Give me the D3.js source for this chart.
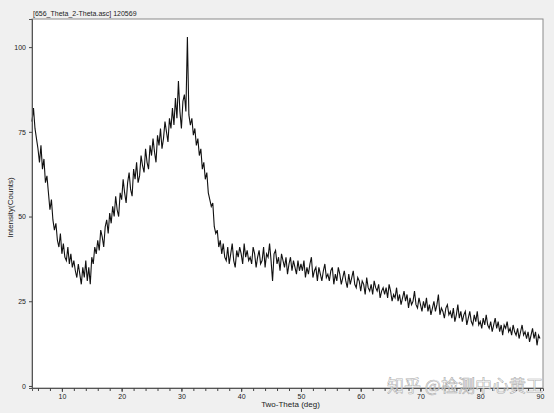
<!DOCTYPE html>
<html>
<head>
<meta charset="utf-8">
<script src="https://cdn.jsdelivr.net/npm/d3@7"></script>
<style>
html,body{margin:0;padding:0;background:#f0f0f0;}
svg{display:block;}
</style>
</head>
<body>
<script>
// ---- data ----
const chartTitle = "[656_Theta_2-Theta.asc] 120569";
const xAxisTitle = "Two-Theta (deg)";
const yAxisTitle = "Intensity(Counts)";
const watermark = "知乎 @检测中心黄工";
const startAngle = 5;
const stepAngle = 0.25;
const xTickValues = [10, 20, 30, 40, 50, 60, 70, 80, 90];
const yTickValues = [0, 25, 50, 75, 100];
const intensity = [
78,82,76,73, 70,66,71,64, 67,60,62,57, 52,55,49,46, 48,43,41,45,
39,42,38,37, 41,36,39,35, 37,34,32,36, 33,30,35,32, 37,31,35,30,
38,36,41,39, 43,40,46,44, 41,47,49,45, 51,48,53,50, 56,52,50,57,
55,61,57,54, 60,63,58,56, 64,61,66,60, 62,68,65,63, 70,66,64,71,
68,73,69,66, 74,71,76,70, 73,78,75,72, 79,76,82,77, 85,79,90,81,
76,84,86,81, 103,80,77,79, 74,76,71,73, 68,70,64,66, 61,63,57,55,
53,54,47,45, 46,41,43,39, 42,38,37,41, 36,39,42,37, 35,40,38,41,
39,36,42,38, 40,37,38,36, 41,39,35,38, 40,36,37,41, 35,39,38,42,
37,31,39,40, 36,38,34,39, 37,35,38,33, 36,38,34,37, 35,33,37,34,
36,34,37,32, 35,33,36,38, 32,34,35,31, 35,33,31,34, 36,32,33,31,
34,35,30,33, 31,35,33,30, 32,34,31,29, 33,30,32,34, 30,29,32,31,
28,31,30,27, 32,29,28,30, 27,31,29,28, 30,26,28,29, 27,29,26,30,
28,25,27,26, 29,25,27,24, 26,28,25,27, 23,26,24,25, 28,24,23,26,
24,22,25,23, 26,22,24,21, 23,25,22,24, 27,21,23,22, 20,23,24,21,
22,20,23,19, 21,24,20,22, 19,21,22,18, 20,22,19,18, 21,19,22,18,
19,17,20,18, 21,18,17,19, 16,18,20,17, 19,16,18,15, 18,17,19,16,
17,15,18,16, 15,17,14,16, 18,15,16,14, 16,13,15,17, 14,16,12,15,
14
];

// ---- layout ----
const W = 554, H = 413;
const margin = {left: 32, top: 19, right: 11, bottom: 25};
const svg = d3.select("body").append("svg").attr("width", W).attr("height", H);
svg.append("rect").attr("width", W).attr("height", H).attr("fill", "#f0f0f0");

const x = d3.scaleLinear().domain([5, 90.5]).range([margin.left, W - margin.right]);
const y = d3.scaleLinear().domain([-0.6, 108.3]).range([H - margin.bottom, margin.top]);

const font = "Liberation Sans, Arial, sans-serif";

// plot area
svg.append("rect")
  .attr("x", margin.left).attr("y", margin.top)
  .attr("width", W - margin.left - margin.right)
  .attr("height", H - margin.top - margin.bottom)
  .attr("fill", "#fff").attr("stroke", "#8a8a8a").attr("stroke-width", 1);

// data line
const pts = intensity.map((v, i) => [startAngle + i * stepAngle, v]);
svg.append("path")
  .datum(pts)
  .attr("fill", "none")
  .attr("stroke", "#111")
  .attr("stroke-width", 1.1)
  .attr("d", d3.line().x(d => x(d[0])).y(d => y(d[1])));

// x axis
const xMinor = d3.range(6, 91, 2);
const xAxisG = svg.append("g").attr("transform", `translate(0,${H - margin.bottom})`);
xAxisG.call(d3.axisBottom(x).tickValues(xMinor).tickSize(3).tickFormat(""));
xAxisG.call(g => g.selectAll(".domain").attr("stroke", "#555"));
xAxisG.selectAll(".tick line").attr("stroke", "#444");
const xLab = svg.append("g").attr("transform", `translate(0,${H - margin.bottom})`)
  .call(d3.axisBottom(x).tickValues(xTickValues).tickSize(4).tickFormat(d3.format("d")).tickPadding(2));
xLab.select(".domain").remove();
xLab.selectAll(".tick line").attr("stroke", "#444");
xLab.selectAll("text").attr("font-family", font).attr("font-size", 7).attr("fill", "#222");

// y axis
const yAxisG = svg.append("g").attr("transform", `translate(${margin.left},0)`)
  .call(d3.axisLeft(y).tickValues(yTickValues).tickSize(3).tickPadding(3).tickFormat(d3.format("d")));
yAxisG.select(".domain").attr("stroke", "#555");
yAxisG.selectAll(".tick line").attr("stroke", "#444");
yAxisG.selectAll("text").attr("font-family", font).attr("font-size", 7).attr("fill", "#222");

// titles
svg.append("text").attr("x", margin.left + 1).attr("y", margin.top - 3)
  .attr("font-family", font).attr("font-size", 7).attr("fill", "#222").text(chartTitle);
svg.append("text").attr("x", (margin.left + W - margin.right) / 2 + 3).attr("y", 407)
  .attr("text-anchor", "middle").attr("font-family", font).attr("font-size", 8).attr("fill", "#222").text(xAxisTitle);
svg.append("text").attr("transform", `translate(13,${(margin.top + H - margin.bottom) / 2 + 4}) rotate(-90)`)
  .attr("text-anchor", "middle").attr("font-family", font).attr("font-size", 8).attr("fill", "#222").text(yAxisTitle);

// watermark
svg.append("text").attr("x", 387).attr("y", 392)
  .attr("font-family", "Noto Sans CJK SC, sans-serif").attr("font-size", 17)
  .attr("fill", "#ffffff").attr("fill-opacity", 0.75)
  .attr("stroke", "#9a9a9a").attr("stroke-width", 0.6).attr("stroke-opacity", 0.8)
  .text(watermark);
</script>
</body>
</html>
